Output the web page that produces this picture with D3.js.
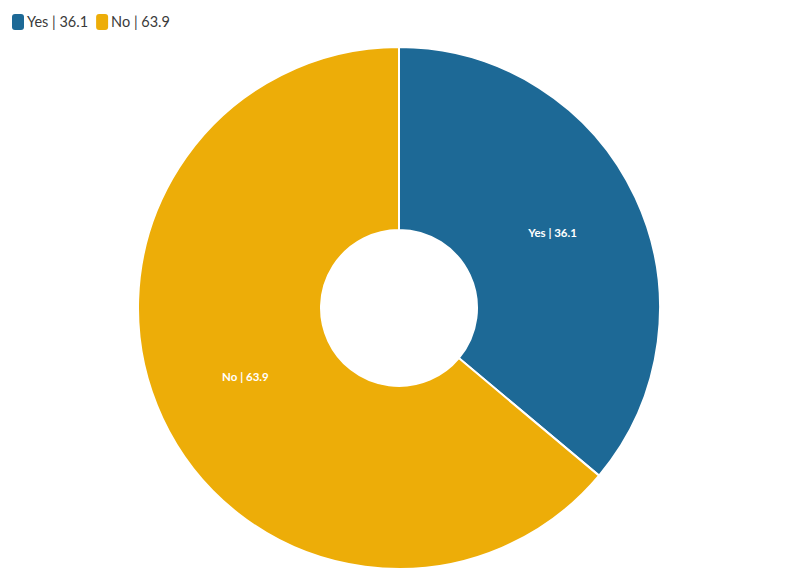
<!DOCTYPE html>
<html><head><meta charset="utf-8">
<script src="https://cdn.jsdelivr.net/npm/d3@7"></script>
<style>body{margin:0;background:#fff;}svg{display:block;font-family:"Source Sans Pro",Lato,"Open Sans",sans-serif;}</style>
</head><body>
<svg id="chart" width="796" height="575"></svg>
<script>
const categories = ["Yes", "No"];
const values = [36.1, 63.9];
const colors = ["#1D6996", "#EDAD08"];

const svg = d3.select("#chart");
const cx = 399, cy = 308, outerR = 261, innerR = 78;
const data = categories.map((c, i) => ({cat: c, value: values[i]}));
const pie = d3.pie().value(d => d.value).sort(null);
const arc = d3.arc().innerRadius(innerR).outerRadius(outerR);
const color = d3.scaleOrdinal().domain(categories).range(colors);

const g = svg.append("g").attr("transform", `translate(${cx},${cy})`);
const arcs = pie(data);
g.selectAll("path").data(arcs).join("path")
  .attr("d", arc).attr("fill", d => color(d.data.cat))
  .attr("stroke", "#fff").attr("stroke-width", 2);
g.selectAll("text").data(arcs).join("text")
  .attr("transform", d => { const c = arc.centroid(d); return `translate(${c[0]},${c[1] - 3})`; })
  .attr("text-anchor", "middle").attr("dy", "0.35em")
  .attr("fill", "#fff").attr("font-weight", "bold").attr("font-size", 11.5)
  .text(d => `${d.data.cat} | ${d.data.value}`);

// legend
const leg = svg.append("g").attr("transform", "translate(12,14)");
let x = 0;
data.forEach(d => {
  const it = leg.append("g").attr("transform", `translate(${x},0)`);
  it.append("rect").attr("width", 12).attr("height", 16).attr("rx", 3).attr("fill", color(d.cat));
  const t = it.append("text").attr("x", 15).attr("y", 8).attr("dy", "0.35em")
    .attr("font-size", 14.5).attr("fill", "#3a3a3a").text(`${d.cat} | ${d.value}`);
  x += 15 + t.node().getComputedTextLength() + 8;
});
</script>
</body></html>
